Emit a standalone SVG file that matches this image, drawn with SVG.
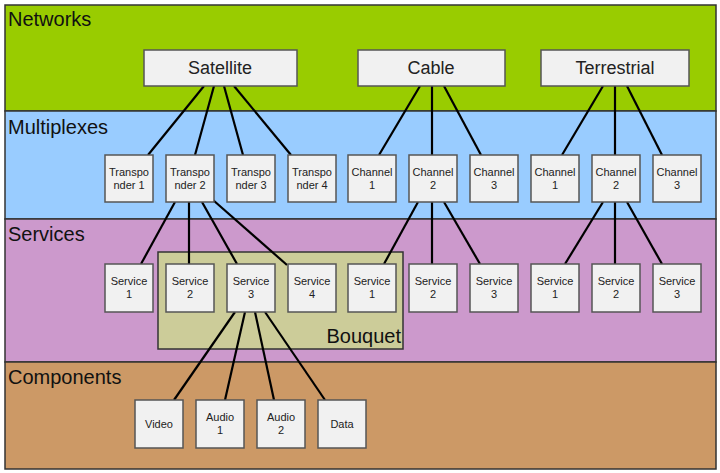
<svg xmlns="http://www.w3.org/2000/svg" width="720" height="473" viewBox="0 0 720 473">
<defs><style>
.band{stroke:#333;stroke-width:1.5}
.h{font-family:"Liberation Sans",Arial,sans-serif;font-size:20px;fill:#111}
.n rect{fill:#f1f1f1;stroke:#555;stroke-width:1.5}
.n text{font-family:"Liberation Sans",Arial,sans-serif;font-size:11px;fill:#222;text-anchor:middle}
.big text{font-size:18px}
#connectors line{stroke:#000;stroke-width:2.2}
</style></defs>
<rect width="720" height="473" fill="#fff"/>
<rect class="band" x="5" y="5" width="711" height="106" fill="#99cc00"/>
<rect class="band" x="5" y="111" width="711" height="108" fill="#99ccff"/>
<rect class="band" x="5" y="219" width="711" height="143" fill="#cc99cc"/>
<rect class="band" x="5" y="362" width="711" height="107" fill="#cc9966"/>
<text class="h" x="8" y="26">Networks</text>
<text class="h" x="8" y="134">Multiplexes</text>
<text class="h" x="8" y="241">Services</text>
<text class="h" x="8" y="384">Components</text>
<g id="bouquet"><rect x="158" y="252" width="245" height="97" fill="#cccc99" stroke="#333" stroke-width="1.5"/><text class="h" x="401" y="343" text-anchor="end">Bouquet</text></g>
<g id="connectors">
<line x1="204" y1="86" x2="148" y2="155"/><line x1="214" y1="86" x2="195" y2="155"/><line x1="224" y1="86" x2="243" y2="155"/><line x1="234" y1="86" x2="291" y2="155"/>
<line x1="420" y1="86" x2="379" y2="155"/><line x1="432" y1="86" x2="432" y2="155"/><line x1="444" y1="86" x2="481" y2="155"/>
<line x1="603" y1="86" x2="562" y2="155"/><line x1="615" y1="86" x2="615" y2="155"/><line x1="627" y1="86" x2="662" y2="155"/>
<line x1="175" y1="202" x2="141" y2="264"/><line x1="189" y1="202" x2="189" y2="264"/><line x1="202" y1="202" x2="237" y2="264"/><line x1="213" y1="200" x2="287" y2="265"/>
<line x1="418" y1="202" x2="384" y2="264"/><line x1="432" y1="202" x2="432" y2="264"/><line x1="444" y1="202" x2="480" y2="264"/>
<line x1="603" y1="202" x2="565" y2="264"/><line x1="615" y1="202" x2="615" y2="264"/><line x1="627" y1="202" x2="662" y2="264"/>
<line x1="235" y1="312" x2="174" y2="400"/><line x1="245" y1="312" x2="225" y2="400"/><line x1="255" y1="312" x2="274" y2="400"/><line x1="265" y1="312" x2="325" y2="400"/>
</g>
<g id="satellite" class="n big"><rect x="144" y="50" width="153" height="36"/><text x="220" y="74">Satellite</text></g>
<g id="cable" class="n big"><rect x="358" y="50" width="147" height="36"/><text x="431" y="74">Cable</text></g>
<g id="terrestrial" class="n big"><rect x="541" y="50" width="148" height="36"/><text x="615" y="74">Terrestrial</text></g>
<g id="tp1" class="n"><rect x="105" y="155" width="48" height="47"/><text x="129" y="176">Transpo</text><text x="129" y="189">nder 1</text></g>
<g id="tp2" class="n"><rect x="166" y="155" width="48" height="47"/><text x="190" y="176">Transpo</text><text x="190" y="189">nder 2</text></g>
<g id="tp3" class="n"><rect x="227" y="155" width="48" height="47"/><text x="251" y="176">Transpo</text><text x="251" y="189">nder 3</text></g>
<g id="tp4" class="n"><rect x="288" y="155" width="48" height="47"/><text x="312" y="176">Transpo</text><text x="312" y="189">nder 4</text></g>
<g id="cch1" class="n"><rect x="348" y="155" width="48" height="47"/><text x="372" y="176">Channel</text><text x="372" y="189">1</text></g>
<g id="cch2" class="n"><rect x="409" y="155" width="48" height="47"/><text x="433" y="176">Channel</text><text x="433" y="189">2</text></g>
<g id="cch3" class="n"><rect x="470" y="155" width="48" height="47"/><text x="494" y="176">Channel</text><text x="494" y="189">3</text></g>
<g id="tch1" class="n"><rect x="531" y="155" width="48" height="47"/><text x="555" y="176">Channel</text><text x="555" y="189">1</text></g>
<g id="tch2" class="n"><rect x="592" y="155" width="48" height="47"/><text x="616" y="176">Channel</text><text x="616" y="189">2</text></g>
<g id="tch3" class="n"><rect x="653" y="155" width="48" height="47"/><text x="677" y="176">Channel</text><text x="677" y="189">3</text></g>
<g id="ss1" class="n"><rect x="105" y="264" width="48" height="48"/><text x="129" y="285">Service</text><text x="129" y="298">1</text></g>
<g id="ss2" class="n"><rect x="166" y="264" width="48" height="48"/><text x="190" y="285">Service</text><text x="190" y="298">2</text></g>
<g id="ss3" class="n"><rect x="227" y="264" width="48" height="48"/><text x="251" y="285">Service</text><text x="251" y="298">3</text></g>
<g id="ss4" class="n"><rect x="288" y="264" width="48" height="48"/><text x="312" y="285">Service</text><text x="312" y="298">4</text></g>
<g id="cs1" class="n"><rect x="348" y="264" width="48" height="48"/><text x="372" y="285">Service</text><text x="372" y="298">1</text></g>
<g id="cs2" class="n"><rect x="409" y="264" width="48" height="48"/><text x="433" y="285">Service</text><text x="433" y="298">2</text></g>
<g id="cs3" class="n"><rect x="470" y="264" width="48" height="48"/><text x="494" y="285">Service</text><text x="494" y="298">3</text></g>
<g id="ts1" class="n"><rect x="531" y="264" width="48" height="48"/><text x="555" y="285">Service</text><text x="555" y="298">1</text></g>
<g id="ts2" class="n"><rect x="592" y="264" width="48" height="48"/><text x="616" y="285">Service</text><text x="616" y="298">2</text></g>
<g id="ts3" class="n"><rect x="653" y="264" width="48" height="48"/><text x="677" y="285">Service</text><text x="677" y="298">3</text></g>
<g id="video" class="n"><rect x="135" y="400" width="48" height="48"/><text x="159" y="428">Video</text></g>
<g id="audio1" class="n"><rect x="196" y="400" width="48" height="48"/><text x="220" y="421">Audio</text><text x="220" y="434">1</text></g>
<g id="audio2" class="n"><rect x="257" y="400" width="48" height="48"/><text x="281" y="421">Audio</text><text x="281" y="434">2</text></g>
<g id="data" class="n"><rect x="318" y="400" width="48" height="48"/><text x="342" y="428">Data</text></g>
</svg>
